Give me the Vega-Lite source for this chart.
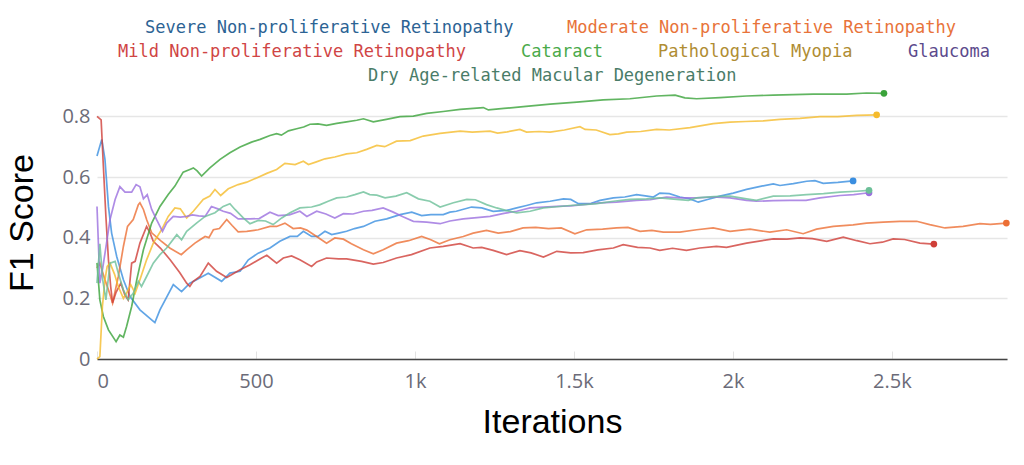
{
"$schema":"https://vega.github.io/schema/vega-lite/v6.json",
"width":910,"height":273,
"autosize":{"type":"none"},
"padding":{"left":97,"top":86,"right":17,"bottom":106},
"background":"white",
"data":{"values":[
{"series":"Severe Non-proliferative Retinopathy","iter":0,"f1":0.669},{"series":"Severe Non-proliferative Retinopathy","iter":15,"f1":0.724},{"series":"Severe Non-proliferative Retinopathy","iter":25,"f1":0.658},{"series":"Severe Non-proliferative Retinopathy","iter":36,"f1":0.503},{"series":"Severe Non-proliferative Retinopathy","iter":46,"f1":0.415},{"series":"Severe Non-proliferative Retinopathy","iter":62,"f1":0.338},{"series":"Severe Non-proliferative Retinopathy","iter":83,"f1":0.261},{"series":"Severe Non-proliferative Retinopathy","iter":104,"f1":0.206},{"series":"Severe Non-proliferative Retinopathy","iter":135,"f1":0.162},{"series":"Severe Non-proliferative Retinopathy","iter":182,"f1":0.12},{"series":"Severe Non-proliferative Retinopathy","iter":198,"f1":0.162},{"series":"Severe Non-proliferative Retinopathy","iter":240,"f1":0.245},{"series":"Severe Non-proliferative Retinopathy","iter":266,"f1":0.222},{"series":"Severe Non-proliferative Retinopathy","iter":292,"f1":0.25},{"series":"Severe Non-proliferative Retinopathy","iter":313,"f1":0.261},{"series":"Severe Non-proliferative Retinopathy","iter":350,"f1":0.283},{"series":"Severe Non-proliferative Retinopathy","iter":392,"f1":0.256},{"series":"Severe Non-proliferative Retinopathy","iter":418,"f1":0.283},{"series":"Severe Non-proliferative Retinopathy","iter":450,"f1":0.289},{"series":"Severe Non-proliferative Retinopathy","iter":476,"f1":0.327},{"series":"Severe Non-proliferative Retinopathy","iter":507,"f1":0.349},{"series":"Severe Non-proliferative Retinopathy","iter":544,"f1":0.366},{"series":"Severe Non-proliferative Retinopathy","iter":575,"f1":0.388},{"series":"Severe Non-proliferative Retinopathy","iter":607,"f1":0.404},{"series":"Severe Non-proliferative Retinopathy","iter":630,"f1":0.404},{"series":"Severe Non-proliferative Retinopathy","iter":649,"f1":0.421},{"series":"Severe Non-proliferative Retinopathy","iter":675,"f1":0.404},{"series":"Severe Non-proliferative Retinopathy","iter":695,"f1":0.404},{"series":"Severe Non-proliferative Retinopathy","iter":717,"f1":0.421},{"series":"Severe Non-proliferative Retinopathy","iter":738,"f1":0.41},{"series":"Severe Non-proliferative Retinopathy","iter":760,"f1":0.415},{"series":"Severe Non-proliferative Retinopathy","iter":785,"f1":0.421},{"series":"Severe Non-proliferative Retinopathy","iter":810,"f1":0.43},{"series":"Severe Non-proliferative Retinopathy","iter":838,"f1":0.437},{"series":"Severe Non-proliferative Retinopathy","iter":874,"f1":0.454},{"series":"Severe Non-proliferative Retinopathy","iter":911,"f1":0.462},{"series":"Severe Non-proliferative Retinopathy","iter":953,"f1":0.476},{"series":"Severe Non-proliferative Retinopathy","iter":990,"f1":0.484},{"series":"Severe Non-proliferative Retinopathy","iter":1021,"f1":0.473},{"series":"Severe Non-proliferative Retinopathy","iter":1050,"f1":0.476},{"series":"Severe Non-proliferative Retinopathy","iter":1089,"f1":0.476},{"series":"Severe Non-proliferative Retinopathy","iter":1110,"f1":0.484},{"series":"Severe Non-proliferative Retinopathy","iter":1130,"f1":0.487},{"series":"Severe Non-proliferative Retinopathy","iter":1178,"f1":0.501},{"series":"Severe Non-proliferative Retinopathy","iter":1210,"f1":0.498},{"series":"Severe Non-proliferative Retinopathy","iter":1246,"f1":0.487},{"series":"Severe Non-proliferative Retinopathy","iter":1288,"f1":0.49},{"series":"Severe Non-proliferative Retinopathy","iter":1320,"f1":0.498},{"series":"Severe Non-proliferative Retinopathy","iter":1351,"f1":0.506},{"series":"Severe Non-proliferative Retinopathy","iter":1383,"f1":0.515},{"series":"Severe Non-proliferative Retinopathy","iter":1425,"f1":0.52},{"series":"Severe Non-proliferative Retinopathy","iter":1467,"f1":0.528},{"series":"Severe Non-proliferative Retinopathy","iter":1490,"f1":0.526},{"series":"Severe Non-proliferative Retinopathy","iter":1514,"f1":0.512},{"series":"Severe Non-proliferative Retinopathy","iter":1550,"f1":0.512},{"series":"Severe Non-proliferative Retinopathy","iter":1582,"f1":0.523},{"series":"Severe Non-proliferative Retinopathy","iter":1624,"f1":0.531},{"series":"Severe Non-proliferative Retinopathy","iter":1660,"f1":0.534},{"series":"Severe Non-proliferative Retinopathy","iter":1697,"f1":0.542},{"series":"Severe Non-proliferative Retinopathy","iter":1730,"f1":0.537},{"series":"Severe Non-proliferative Retinopathy","iter":1750,"f1":0.534},{"series":"Severe Non-proliferative Retinopathy","iter":1770,"f1":0.547},{"series":"Severe Non-proliferative Retinopathy","iter":1800,"f1":0.545},{"series":"Severe Non-proliferative Retinopathy","iter":1833,"f1":0.534},{"series":"Severe Non-proliferative Retinopathy","iter":1865,"f1":0.528},{"series":"Severe Non-proliferative Retinopathy","iter":1891,"f1":0.517},{"series":"Severe Non-proliferative Retinopathy","iter":1920,"f1":0.526},{"series":"Severe Non-proliferative Retinopathy","iter":1959,"f1":0.537},{"series":"Severe Non-proliferative Retinopathy","iter":2001,"f1":0.547},{"series":"Severe Non-proliferative Retinopathy","iter":2043,"f1":0.559},{"series":"Severe Non-proliferative Retinopathy","iter":2090,"f1":0.57},{"series":"Severe Non-proliferative Retinopathy","iter":2127,"f1":0.577},{"series":"Severe Non-proliferative Retinopathy","iter":2148,"f1":0.572},{"series":"Severe Non-proliferative Retinopathy","iter":2190,"f1":0.578},{"series":"Severe Non-proliferative Retinopathy","iter":2232,"f1":0.586},{"series":"Severe Non-proliferative Retinopathy","iter":2258,"f1":0.588},{"series":"Severe Non-proliferative Retinopathy","iter":2284,"f1":0.579},{"series":"Severe Non-proliferative Retinopathy","iter":2330,"f1":0.582},{"series":"Severe Non-proliferative Retinopathy","iter":2378,"f1":0.587},
{"series":"Moderate Non-proliferative Retinopathy","iter":0,"f1":0.3},{"series":"Moderate Non-proliferative Retinopathy","iter":9,"f1":0.316},{"series":"Moderate Non-proliferative Retinopathy","iter":25,"f1":0.261},{"series":"Moderate Non-proliferative Retinopathy","iter":36,"f1":0.228},{"series":"Moderate Non-proliferative Retinopathy","iter":49,"f1":0.184},{"series":"Moderate Non-proliferative Retinopathy","iter":67,"f1":0.272},{"series":"Moderate Non-proliferative Retinopathy","iter":83,"f1":0.371},{"series":"Moderate Non-proliferative Retinopathy","iter":96,"f1":0.437},{"series":"Moderate Non-proliferative Retinopathy","iter":114,"f1":0.46},{"series":"Moderate Non-proliferative Retinopathy","iter":130,"f1":0.509},{"series":"Moderate Non-proliferative Retinopathy","iter":135,"f1":0.515},{"series":"Moderate Non-proliferative Retinopathy","iter":146,"f1":0.493},{"series":"Moderate Non-proliferative Retinopathy","iter":156,"f1":0.46},{"series":"Moderate Non-proliferative Retinopathy","iter":172,"f1":0.416},{"series":"Moderate Non-proliferative Retinopathy","iter":200,"f1":0.39},{"series":"Moderate Non-proliferative Retinopathy","iter":230,"f1":0.365},{"series":"Moderate Non-proliferative Retinopathy","iter":265,"f1":0.344},{"series":"Moderate Non-proliferative Retinopathy","iter":282,"f1":0.36},{"series":"Moderate Non-proliferative Retinopathy","iter":308,"f1":0.382},{"series":"Moderate Non-proliferative Retinopathy","iter":324,"f1":0.393},{"series":"Moderate Non-proliferative Retinopathy","iter":340,"f1":0.404},{"series":"Moderate Non-proliferative Retinopathy","iter":352,"f1":0.4},{"series":"Moderate Non-proliferative Retinopathy","iter":366,"f1":0.426},{"series":"Moderate Non-proliferative Retinopathy","iter":385,"f1":0.43},{"series":"Moderate Non-proliferative Retinopathy","iter":408,"f1":0.46},{"series":"Moderate Non-proliferative Retinopathy","iter":425,"f1":0.44},{"series":"Moderate Non-proliferative Retinopathy","iter":444,"f1":0.419},{"series":"Moderate Non-proliferative Retinopathy","iter":471,"f1":0.421},{"series":"Moderate Non-proliferative Retinopathy","iter":507,"f1":0.426},{"series":"Moderate Non-proliferative Retinopathy","iter":544,"f1":0.437},{"series":"Moderate Non-proliferative Retinopathy","iter":565,"f1":0.437},{"series":"Moderate Non-proliferative Retinopathy","iter":591,"f1":0.448},{"series":"Moderate Non-proliferative Retinopathy","iter":617,"f1":0.43},{"series":"Moderate Non-proliferative Retinopathy","iter":640,"f1":0.432},{"series":"Moderate Non-proliferative Retinopathy","iter":660,"f1":0.425},{"series":"Moderate Non-proliferative Retinopathy","iter":686,"f1":0.407},{"series":"Moderate Non-proliferative Retinopathy","iter":722,"f1":0.382},{"series":"Moderate Non-proliferative Retinopathy","iter":748,"f1":0.399},{"series":"Moderate Non-proliferative Retinopathy","iter":775,"f1":0.395},{"series":"Moderate Non-proliferative Retinopathy","iter":800,"f1":0.38},{"series":"Moderate Non-proliferative Retinopathy","iter":838,"f1":0.36},{"series":"Moderate Non-proliferative Retinopathy","iter":869,"f1":0.347},{"series":"Moderate Non-proliferative Retinopathy","iter":900,"f1":0.36},{"series":"Moderate Non-proliferative Retinopathy","iter":942,"f1":0.382},{"series":"Moderate Non-proliferative Retinopathy","iter":980,"f1":0.39},{"series":"Moderate Non-proliferative Retinopathy","iter":1021,"f1":0.404},{"series":"Moderate Non-proliferative Retinopathy","iter":1050,"f1":0.393},{"series":"Moderate Non-proliferative Retinopathy","iter":1077,"f1":0.38},{"series":"Moderate Non-proliferative Retinopathy","iter":1110,"f1":0.393},{"series":"Moderate Non-proliferative Retinopathy","iter":1152,"f1":0.404},{"series":"Moderate Non-proliferative Retinopathy","iter":1183,"f1":0.415},{"series":"Moderate Non-proliferative Retinopathy","iter":1225,"f1":0.424},{"series":"Moderate Non-proliferative Retinopathy","iter":1262,"f1":0.415},{"series":"Moderate Non-proliferative Retinopathy","iter":1300,"f1":0.42},{"series":"Moderate Non-proliferative Retinopathy","iter":1340,"f1":0.432},{"series":"Moderate Non-proliferative Retinopathy","iter":1380,"f1":0.434},{"series":"Moderate Non-proliferative Retinopathy","iter":1420,"f1":0.43},{"series":"Moderate Non-proliferative Retinopathy","iter":1460,"f1":0.432},{"series":"Moderate Non-proliferative Retinopathy","iter":1503,"f1":0.413},{"series":"Moderate Non-proliferative Retinopathy","iter":1540,"f1":0.426},{"series":"Moderate Non-proliferative Retinopathy","iter":1590,"f1":0.428},{"series":"Moderate Non-proliferative Retinopathy","iter":1634,"f1":0.432},{"series":"Moderate Non-proliferative Retinopathy","iter":1670,"f1":0.434},{"series":"Moderate Non-proliferative Retinopathy","iter":1708,"f1":0.421},{"series":"Moderate Non-proliferative Retinopathy","iter":1745,"f1":0.424},{"series":"Moderate Non-proliferative Retinopathy","iter":1781,"f1":0.418},{"series":"Moderate Non-proliferative Retinopathy","iter":1833,"f1":0.418},{"series":"Moderate Non-proliferative Retinopathy","iter":1886,"f1":0.426},{"series":"Moderate Non-proliferative Retinopathy","iter":1938,"f1":0.432},{"series":"Moderate Non-proliferative Retinopathy","iter":1991,"f1":0.421},{"series":"Moderate Non-proliferative Retinopathy","iter":2054,"f1":0.428},{"series":"Moderate Non-proliferative Retinopathy","iter":2116,"f1":0.418},{"series":"Moderate Non-proliferative Retinopathy","iter":2169,"f1":0.426},{"series":"Moderate Non-proliferative Retinopathy","iter":2221,"f1":0.413},{"series":"Moderate Non-proliferative Retinopathy","iter":2263,"f1":0.428},{"series":"Moderate Non-proliferative Retinopathy","iter":2316,"f1":0.437},{"series":"Moderate Non-proliferative Retinopathy","iter":2378,"f1":0.442},{"series":"Moderate Non-proliferative Retinopathy","iter":2420,"f1":0.448},{"series":"Moderate Non-proliferative Retinopathy","iter":2473,"f1":0.451},{"series":"Moderate Non-proliferative Retinopathy","iter":2525,"f1":0.454},{"series":"Moderate Non-proliferative Retinopathy","iter":2578,"f1":0.454},{"series":"Moderate Non-proliferative Retinopathy","iter":2619,"f1":0.443},{"series":"Moderate Non-proliferative Retinopathy","iter":2667,"f1":0.432},{"series":"Moderate Non-proliferative Retinopathy","iter":2724,"f1":0.437},{"series":"Moderate Non-proliferative Retinopathy","iter":2777,"f1":0.446},{"series":"Moderate Non-proliferative Retinopathy","iter":2810,"f1":0.444},{"series":"Moderate Non-proliferative Retinopathy","iter":2860,"f1":0.448},
{"series":"Mild Non-proliferative Retinopathy","iter":0,"f1":0.8},{"series":"Mild Non-proliferative Retinopathy","iter":13,"f1":0.788},{"series":"Mild Non-proliferative Retinopathy","iter":20,"f1":0.636},{"series":"Mild Non-proliferative Retinopathy","iter":28,"f1":0.47},{"series":"Mild Non-proliferative Retinopathy","iter":36,"f1":0.327},{"series":"Mild Non-proliferative Retinopathy","iter":43,"f1":0.239},{"series":"Mild Non-proliferative Retinopathy","iter":49,"f1":0.185},{"series":"Mild Non-proliferative Retinopathy","iter":60,"f1":0.22},{"series":"Mild Non-proliferative Retinopathy","iter":75,"f1":0.25},{"series":"Mild Non-proliferative Retinopathy","iter":88,"f1":0.21},{"series":"Mild Non-proliferative Retinopathy","iter":98,"f1":0.195},{"series":"Mild Non-proliferative Retinopathy","iter":109,"f1":0.316},{"series":"Mild Non-proliferative Retinopathy","iter":120,"f1":0.322},{"series":"Mild Non-proliferative Retinopathy","iter":135,"f1":0.382},{"series":"Mild Non-proliferative Retinopathy","iter":156,"f1":0.437},{"series":"Mild Non-proliferative Retinopathy","iter":167,"f1":0.415},{"series":"Mild Non-proliferative Retinopathy","iter":177,"f1":0.388},{"series":"Mild Non-proliferative Retinopathy","iter":200,"f1":0.365},{"series":"Mild Non-proliferative Retinopathy","iter":230,"f1":0.327},{"series":"Mild Non-proliferative Retinopathy","iter":260,"f1":0.285},{"series":"Mild Non-proliferative Retinopathy","iter":282,"f1":0.25},{"series":"Mild Non-proliferative Retinopathy","iter":292,"f1":0.239},{"series":"Mild Non-proliferative Retinopathy","iter":302,"f1":0.255},{"series":"Mild Non-proliferative Retinopathy","iter":324,"f1":0.272},{"series":"Mild Non-proliferative Retinopathy","iter":350,"f1":0.316},{"series":"Mild Non-proliferative Retinopathy","iter":376,"f1":0.289},{"series":"Mild Non-proliferative Retinopathy","iter":408,"f1":0.269},{"series":"Mild Non-proliferative Retinopathy","iter":450,"f1":0.294},{"series":"Mild Non-proliferative Retinopathy","iter":480,"f1":0.31},{"series":"Mild Non-proliferative Retinopathy","iter":518,"f1":0.333},{"series":"Mild Non-proliferative Retinopathy","iter":534,"f1":0.342},{"series":"Mild Non-proliferative Retinopathy","iter":565,"f1":0.316},{"series":"Mild Non-proliferative Retinopathy","iter":586,"f1":0.333},{"series":"Mild Non-proliferative Retinopathy","iter":612,"f1":0.34},{"series":"Mild Non-proliferative Retinopathy","iter":638,"f1":0.327},{"series":"Mild Non-proliferative Retinopathy","iter":675,"f1":0.305},{"series":"Mild Non-proliferative Retinopathy","iter":691,"f1":0.32},{"series":"Mild Non-proliferative Retinopathy","iter":722,"f1":0.333},{"series":"Mild Non-proliferative Retinopathy","iter":760,"f1":0.33},{"series":"Mild Non-proliferative Retinopathy","iter":785,"f1":0.33},{"series":"Mild Non-proliferative Retinopathy","iter":832,"f1":0.322},{"series":"Mild Non-proliferative Retinopathy","iter":869,"f1":0.313},{"series":"Mild Non-proliferative Retinopathy","iter":900,"f1":0.318},{"series":"Mild Non-proliferative Retinopathy","iter":942,"f1":0.333},{"series":"Mild Non-proliferative Retinopathy","iter":989,"f1":0.344},{"series":"Mild Non-proliferative Retinopathy","iter":1047,"f1":0.366},{"series":"Mild Non-proliferative Retinopathy","iter":1089,"f1":0.371},{"series":"Mild Non-proliferative Retinopathy","iter":1142,"f1":0.38},{"series":"Mild Non-proliferative Retinopathy","iter":1183,"f1":0.366},{"series":"Mild Non-proliferative Retinopathy","iter":1210,"f1":0.368},{"series":"Mild Non-proliferative Retinopathy","iter":1246,"f1":0.358},{"series":"Mild Non-proliferative Retinopathy","iter":1288,"f1":0.344},{"series":"Mild Non-proliferative Retinopathy","iter":1330,"f1":0.357},{"series":"Mild Non-proliferative Retinopathy","iter":1365,"f1":0.35},{"series":"Mild Non-proliferative Retinopathy","iter":1404,"f1":0.336},{"series":"Mild Non-proliferative Retinopathy","iter":1446,"f1":0.355},{"series":"Mild Non-proliferative Retinopathy","iter":1490,"f1":0.35},{"series":"Mild Non-proliferative Retinopathy","iter":1529,"f1":0.351},{"series":"Mild Non-proliferative Retinopathy","iter":1575,"f1":0.36},{"series":"Mild Non-proliferative Retinopathy","iter":1624,"f1":0.366},{"series":"Mild Non-proliferative Retinopathy","iter":1655,"f1":0.377},{"series":"Mild Non-proliferative Retinopathy","iter":1700,"f1":0.368},{"series":"Mild Non-proliferative Retinopathy","iter":1739,"f1":0.366},{"series":"Mild Non-proliferative Retinopathy","iter":1770,"f1":0.358},{"series":"Mild Non-proliferative Retinopathy","iter":1810,"f1":0.365},{"series":"Mild Non-proliferative Retinopathy","iter":1854,"f1":0.358},{"series":"Mild Non-proliferative Retinopathy","iter":1896,"f1":0.366},{"series":"Mild Non-proliferative Retinopathy","iter":1948,"f1":0.371},{"series":"Mild Non-proliferative Retinopathy","iter":1980,"f1":0.368},{"series":"Mild Non-proliferative Retinopathy","iter":2043,"f1":0.382},{"series":"Mild Non-proliferative Retinopathy","iter":2127,"f1":0.396},{"series":"Mild Non-proliferative Retinopathy","iter":2170,"f1":0.395},{"series":"Mild Non-proliferative Retinopathy","iter":2211,"f1":0.399},{"series":"Mild Non-proliferative Retinopathy","iter":2250,"f1":0.397},{"series":"Mild Non-proliferative Retinopathy","iter":2295,"f1":0.388},{"series":"Mild Non-proliferative Retinopathy","iter":2347,"f1":0.402},{"series":"Mild Non-proliferative Retinopathy","iter":2390,"f1":0.39},{"series":"Mild Non-proliferative Retinopathy","iter":2431,"f1":0.38},{"series":"Mild Non-proliferative Retinopathy","iter":2470,"f1":0.385},{"series":"Mild Non-proliferative Retinopathy","iter":2504,"f1":0.396},{"series":"Mild Non-proliferative Retinopathy","iter":2540,"f1":0.394},{"series":"Mild Non-proliferative Retinopathy","iter":2588,"f1":0.382},{"series":"Mild Non-proliferative Retinopathy","iter":2632,"f1":0.379},
{"series":"Cataract","iter":0,"f1":0.317},{"series":"Cataract","iter":9,"f1":0.195},{"series":"Cataract","iter":20,"f1":0.14},{"series":"Cataract","iter":36,"f1":0.096},{"series":"Cataract","iter":60,"f1":0.057},{"series":"Cataract","iter":72,"f1":0.079},{"series":"Cataract","iter":83,"f1":0.072},{"series":"Cataract","iter":93,"f1":0.107},{"series":"Cataract","iter":109,"f1":0.173},{"series":"Cataract","iter":125,"f1":0.261},{"series":"Cataract","iter":146,"f1":0.36},{"series":"Cataract","iter":172,"f1":0.448},{"series":"Cataract","iter":198,"f1":0.503},{"series":"Cataract","iter":224,"f1":0.542},{"series":"Cataract","iter":245,"f1":0.57},{"series":"Cataract","iter":271,"f1":0.616},{"series":"Cataract","iter":292,"f1":0.625},{"series":"Cataract","iter":303,"f1":0.63},{"series":"Cataract","iter":315,"f1":0.62},{"series":"Cataract","iter":329,"f1":0.603},{"series":"Cataract","iter":355,"f1":0.63},{"series":"Cataract","iter":387,"f1":0.658},{"series":"Cataract","iter":418,"f1":0.68},{"series":"Cataract","iter":450,"f1":0.699},{"series":"Cataract","iter":486,"f1":0.715},{"series":"Cataract","iter":513,"f1":0.724},{"series":"Cataract","iter":544,"f1":0.737},{"series":"Cataract","iter":565,"f1":0.743},{"series":"Cataract","iter":580,"f1":0.738},{"series":"Cataract","iter":602,"f1":0.752},{"series":"Cataract","iter":628,"f1":0.759},{"series":"Cataract","iter":650,"f1":0.765},{"series":"Cataract","iter":670,"f1":0.774},{"series":"Cataract","iter":695,"f1":0.775},{"series":"Cataract","iter":722,"f1":0.77},{"series":"Cataract","iter":754,"f1":0.777},{"series":"Cataract","iter":785,"f1":0.782},{"series":"Cataract","iter":817,"f1":0.787},{"series":"Cataract","iter":838,"f1":0.792},{"series":"Cataract","iter":869,"f1":0.782},{"series":"Cataract","iter":910,"f1":0.79},{"series":"Cataract","iter":953,"f1":0.799},{"series":"Cataract","iter":995,"f1":0.801},{"series":"Cataract","iter":1037,"f1":0.81},{"series":"Cataract","iter":1089,"f1":0.816},{"series":"Cataract","iter":1142,"f1":0.823},{"series":"Cataract","iter":1215,"f1":0.829},{"series":"Cataract","iter":1231,"f1":0.821},{"series":"Cataract","iter":1280,"f1":0.826},{"series":"Cataract","iter":1341,"f1":0.832},{"series":"Cataract","iter":1425,"f1":0.84},{"series":"Cataract","iter":1509,"f1":0.847},{"series":"Cataract","iter":1592,"f1":0.854},{"series":"Cataract","iter":1676,"f1":0.858},{"series":"Cataract","iter":1760,"f1":0.867},{"series":"Cataract","iter":1818,"f1":0.87},{"series":"Cataract","iter":1849,"f1":0.861},{"series":"Cataract","iter":1886,"f1":0.858},{"series":"Cataract","iter":1959,"f1":0.862},{"series":"Cataract","iter":2043,"f1":0.867},{"series":"Cataract","iter":2127,"f1":0.87},{"series":"Cataract","iter":2253,"f1":0.873},{"series":"Cataract","iter":2358,"f1":0.873},{"series":"Cataract","iter":2420,"f1":0.877},{"series":"Cataract","iter":2475,"f1":0.876},
{"series":"Pathological Myopia","iter":0,"f1":0.0},{"series":"Pathological Myopia","iter":9,"f1":0.008},{"series":"Pathological Myopia","iter":17,"f1":0.173},{"series":"Pathological Myopia","iter":25,"f1":0.261},{"series":"Pathological Myopia","iter":32,"f1":0.305},{"series":"Pathological Myopia","iter":41,"f1":0.316},{"series":"Pathological Myopia","iter":55,"f1":0.28},{"series":"Pathological Myopia","iter":67,"f1":0.239},{"series":"Pathological Myopia","iter":83,"f1":0.2},{"series":"Pathological Myopia","iter":93,"f1":0.217},{"series":"Pathological Myopia","iter":106,"f1":0.245},{"series":"Pathological Myopia","iter":120,"f1":0.217},{"series":"Pathological Myopia","iter":135,"f1":0.261},{"series":"Pathological Myopia","iter":156,"f1":0.327},{"series":"Pathological Myopia","iter":177,"f1":0.382},{"series":"Pathological Myopia","iter":203,"f1":0.426},{"series":"Pathological Myopia","iter":224,"f1":0.47},{"series":"Pathological Myopia","iter":245,"f1":0.498},{"series":"Pathological Myopia","iter":262,"f1":0.495},{"series":"Pathological Myopia","iter":282,"f1":0.465},{"series":"Pathological Myopia","iter":303,"f1":0.487},{"series":"Pathological Myopia","iter":334,"f1":0.526},{"series":"Pathological Myopia","iter":355,"f1":0.537},{"series":"Pathological Myopia","iter":371,"f1":0.559},{"series":"Pathological Myopia","iter":389,"f1":0.539},{"series":"Pathological Myopia","iter":413,"f1":0.561},{"series":"Pathological Myopia","iter":444,"f1":0.575},{"series":"Pathological Myopia","iter":471,"f1":0.583},{"series":"Pathological Myopia","iter":502,"f1":0.597},{"series":"Pathological Myopia","iter":534,"f1":0.612},{"series":"Pathological Myopia","iter":565,"f1":0.625},{"series":"Pathological Myopia","iter":591,"f1":0.645},{"series":"Pathological Myopia","iter":623,"f1":0.641},{"series":"Pathological Myopia","iter":649,"f1":0.652},{"series":"Pathological Myopia","iter":665,"f1":0.641},{"series":"Pathological Myopia","iter":690,"f1":0.65},{"series":"Pathological Myopia","iter":717,"f1":0.66},{"series":"Pathological Myopia","iter":748,"f1":0.666},{"series":"Pathological Myopia","iter":785,"f1":0.676},{"series":"Pathological Myopia","iter":817,"f1":0.68},{"series":"Pathological Myopia","iter":848,"f1":0.691},{"series":"Pathological Myopia","iter":880,"f1":0.704},{"series":"Pathological Myopia","iter":905,"f1":0.7},{"series":"Pathological Myopia","iter":942,"f1":0.718},{"series":"Pathological Myopia","iter":985,"f1":0.72},{"series":"Pathological Myopia","iter":1026,"f1":0.735},{"series":"Pathological Myopia","iter":1079,"f1":0.744},{"series":"Pathological Myopia","iter":1142,"f1":0.751},{"series":"Pathological Myopia","iter":1180,"f1":0.748},{"series":"Pathological Myopia","iter":1236,"f1":0.751},{"series":"Pathological Myopia","iter":1260,"f1":0.745},{"series":"Pathological Myopia","iter":1290,"f1":0.749},{"series":"Pathological Myopia","iter":1330,"f1":0.757},{"series":"Pathological Myopia","iter":1351,"f1":0.748},{"series":"Pathological Myopia","iter":1390,"f1":0.75},{"series":"Pathological Myopia","iter":1425,"f1":0.748},{"series":"Pathological Myopia","iter":1470,"f1":0.755},{"series":"Pathological Myopia","iter":1519,"f1":0.766},{"series":"Pathological Myopia","iter":1535,"f1":0.757},{"series":"Pathological Myopia","iter":1570,"f1":0.755},{"series":"Pathological Myopia","iter":1613,"f1":0.74},{"series":"Pathological Myopia","iter":1640,"f1":0.742},{"series":"Pathological Myopia","iter":1666,"f1":0.748},{"series":"Pathological Myopia","iter":1710,"f1":0.75},{"series":"Pathological Myopia","iter":1760,"f1":0.757},{"series":"Pathological Myopia","iter":1800,"f1":0.755},{"series":"Pathological Myopia","iter":1865,"f1":0.763},{"series":"Pathological Myopia","iter":1938,"f1":0.776},{"series":"Pathological Myopia","iter":1991,"f1":0.781},{"series":"Pathological Myopia","iter":2040,"f1":0.783},{"series":"Pathological Myopia","iter":2096,"f1":0.785},{"series":"Pathological Myopia","iter":2148,"f1":0.79},{"series":"Pathological Myopia","iter":2211,"f1":0.793},{"series":"Pathological Myopia","iter":2274,"f1":0.799},{"series":"Pathological Myopia","iter":2330,"f1":0.799},{"series":"Pathological Myopia","iter":2389,"f1":0.803},{"series":"Pathological Myopia","iter":2452,"f1":0.805},
{"series":"Glaucoma","iter":0,"f1":0.503},{"series":"Glaucoma","iter":9,"f1":0.25},{"series":"Glaucoma","iter":18,"f1":0.3},{"series":"Glaucoma","iter":30,"f1":0.382},{"series":"Glaucoma","iter":41,"f1":0.46},{"series":"Glaucoma","iter":57,"f1":0.526},{"series":"Glaucoma","iter":72,"f1":0.568},{"series":"Glaucoma","iter":88,"f1":0.55},{"series":"Glaucoma","iter":109,"f1":0.55},{"series":"Glaucoma","iter":123,"f1":0.575},{"series":"Glaucoma","iter":135,"f1":0.568},{"series":"Glaucoma","iter":146,"f1":0.528},{"series":"Glaucoma","iter":158,"f1":0.542},{"series":"Glaucoma","iter":172,"f1":0.493},{"series":"Glaucoma","iter":187,"f1":0.46},{"series":"Glaucoma","iter":206,"f1":0.421},{"series":"Glaucoma","iter":219,"f1":0.448},{"series":"Glaucoma","iter":240,"f1":0.47},{"series":"Glaucoma","iter":262,"f1":0.468},{"series":"Glaucoma","iter":282,"f1":0.47},{"series":"Glaucoma","iter":300,"f1":0.475},{"series":"Glaucoma","iter":320,"f1":0.472},{"series":"Glaucoma","iter":340,"f1":0.47},{"series":"Glaucoma","iter":360,"f1":0.503},{"series":"Glaucoma","iter":380,"f1":0.495},{"series":"Glaucoma","iter":397,"f1":0.487},{"series":"Glaucoma","iter":420,"f1":0.48},{"series":"Glaucoma","iter":444,"f1":0.462},{"series":"Glaucoma","iter":481,"f1":0.462},{"series":"Glaucoma","iter":510,"f1":0.463},{"series":"Glaucoma","iter":544,"f1":0.484},{"series":"Glaucoma","iter":570,"f1":0.473},{"series":"Glaucoma","iter":605,"f1":0.475},{"series":"Glaucoma","iter":638,"f1":0.487},{"series":"Glaucoma","iter":660,"f1":0.47},{"series":"Glaucoma","iter":691,"f1":0.487},{"series":"Glaucoma","iter":720,"f1":0.478},{"series":"Glaucoma","iter":748,"f1":0.465},{"series":"Glaucoma","iter":775,"f1":0.479},{"series":"Glaucoma","iter":805,"f1":0.478},{"series":"Glaucoma","iter":838,"f1":0.487},{"series":"Glaucoma","iter":865,"f1":0.49},{"series":"Glaucoma","iter":900,"f1":0.498},{"series":"Glaucoma","iter":930,"f1":0.485},{"series":"Glaucoma","iter":964,"f1":0.468},{"series":"Glaucoma","iter":995,"f1":0.454},{"series":"Glaucoma","iter":1037,"f1":0.451},{"series":"Glaucoma","iter":1079,"f1":0.446},{"series":"Glaucoma","iter":1110,"f1":0.455},{"series":"Glaucoma","iter":1152,"f1":0.462},{"series":"Glaucoma","iter":1195,"f1":0.466},{"series":"Glaucoma","iter":1236,"f1":0.47},{"series":"Glaucoma","iter":1280,"f1":0.48},{"series":"Glaucoma","iter":1320,"f1":0.487},{"series":"Glaucoma","iter":1362,"f1":0.498},{"series":"Glaucoma","iter":1404,"f1":0.501},{"series":"Glaucoma","iter":1446,"f1":0.503},{"series":"Glaucoma","iter":1490,"f1":0.505},{"series":"Glaucoma","iter":1529,"f1":0.509},{"series":"Glaucoma","iter":1582,"f1":0.515},{"series":"Glaucoma","iter":1634,"f1":0.517},{"series":"Glaucoma","iter":1697,"f1":0.523},{"series":"Glaucoma","iter":1740,"f1":0.525},{"series":"Glaucoma","iter":1791,"f1":0.534},{"series":"Glaucoma","iter":1830,"f1":0.531},{"series":"Glaucoma","iter":1886,"f1":0.531},{"series":"Glaucoma","iter":1938,"f1":0.534},{"series":"Glaucoma","iter":1991,"f1":0.531},{"series":"Glaucoma","iter":2043,"f1":0.523},{"series":"Glaucoma","iter":2074,"f1":0.52},{"series":"Glaucoma","iter":2127,"f1":0.522},{"series":"Glaucoma","iter":2179,"f1":0.523},{"series":"Glaucoma","iter":2230,"f1":0.523},{"series":"Glaucoma","iter":2274,"f1":0.531},{"series":"Glaucoma","iter":2337,"f1":0.539},{"series":"Glaucoma","iter":2380,"f1":0.542},{"series":"Glaucoma","iter":2428,"f1":0.548},
{"series":"Dry Age-related Macular Degeneration","iter":0,"f1":0.25},{"series":"Dry Age-related Macular Degeneration","iter":9,"f1":0.38},{"series":"Dry Age-related Macular Degeneration","iter":18,"f1":0.261},{"series":"Dry Age-related Macular Degeneration","iter":28,"f1":0.195},{"series":"Dry Age-related Macular Degeneration","iter":41,"f1":0.316},{"series":"Dry Age-related Macular Degeneration","iter":57,"f1":0.322},{"series":"Dry Age-related Macular Degeneration","iter":67,"f1":0.283},{"series":"Dry Age-related Macular Degeneration","iter":83,"f1":0.228},{"series":"Dry Age-related Macular Degeneration","iter":98,"f1":0.195},{"series":"Dry Age-related Macular Degeneration","iter":114,"f1":0.217},{"series":"Dry Age-related Macular Degeneration","iter":130,"f1":0.256},{"series":"Dry Age-related Macular Degeneration","iter":140,"f1":0.239},{"series":"Dry Age-related Macular Degeneration","iter":156,"f1":0.272},{"series":"Dry Age-related Macular Degeneration","iter":177,"f1":0.316},{"series":"Dry Age-related Macular Degeneration","iter":198,"f1":0.344},{"series":"Dry Age-related Macular Degeneration","iter":219,"f1":0.366},{"series":"Dry Age-related Macular Degeneration","iter":251,"f1":0.41},{"series":"Dry Age-related Macular Degeneration","iter":266,"f1":0.393},{"series":"Dry Age-related Macular Degeneration","iter":282,"f1":0.421},{"series":"Dry Age-related Macular Degeneration","iter":313,"f1":0.448},{"series":"Dry Age-related Macular Degeneration","iter":340,"f1":0.47},{"series":"Dry Age-related Macular Degeneration","iter":371,"f1":0.482},{"series":"Dry Age-related Macular Degeneration","iter":397,"f1":0.503},{"series":"Dry Age-related Macular Degeneration","iter":418,"f1":0.512},{"series":"Dry Age-related Macular Degeneration","iter":434,"f1":0.493},{"series":"Dry Age-related Macular Degeneration","iter":460,"f1":0.465},{"series":"Dry Age-related Macular Degeneration","iter":481,"f1":0.446},{"series":"Dry Age-related Macular Degeneration","iter":507,"f1":0.457},{"series":"Dry Age-related Macular Degeneration","iter":530,"f1":0.455},{"series":"Dry Age-related Macular Degeneration","iter":554,"f1":0.443},{"series":"Dry Age-related Macular Degeneration","iter":581,"f1":0.465},{"series":"Dry Age-related Macular Degeneration","iter":607,"f1":0.482},{"series":"Dry Age-related Macular Degeneration","iter":638,"f1":0.498},{"series":"Dry Age-related Macular Degeneration","iter":675,"f1":0.501},{"series":"Dry Age-related Macular Degeneration","iter":700,"f1":0.508},{"series":"Dry Age-related Macular Degeneration","iter":727,"f1":0.52},{"series":"Dry Age-related Macular Degeneration","iter":754,"f1":0.531},{"series":"Dry Age-related Macular Degeneration","iter":785,"f1":0.534},{"series":"Dry Age-related Macular Degeneration","iter":811,"f1":0.542},{"series":"Dry Age-related Macular Degeneration","iter":838,"f1":0.551},{"series":"Dry Age-related Macular Degeneration","iter":858,"f1":0.542},{"series":"Dry Age-related Macular Degeneration","iter":880,"f1":0.54},{"series":"Dry Age-related Macular Degeneration","iter":906,"f1":0.531},{"series":"Dry Age-related Macular Degeneration","iter":940,"f1":0.537},{"series":"Dry Age-related Macular Degeneration","iter":974,"f1":0.548},{"series":"Dry Age-related Macular Degeneration","iter":1011,"f1":0.528},{"series":"Dry Age-related Macular Degeneration","iter":1047,"f1":0.52},{"series":"Dry Age-related Macular Degeneration","iter":1079,"f1":0.501},{"series":"Dry Age-related Macular Degeneration","iter":1121,"f1":0.515},{"series":"Dry Age-related Macular Degeneration","iter":1163,"f1":0.526},{"series":"Dry Age-related Macular Degeneration","iter":1190,"f1":0.525},{"series":"Dry Age-related Macular Degeneration","iter":1225,"f1":0.509},{"series":"Dry Age-related Macular Degeneration","iter":1257,"f1":0.498},{"series":"Dry Age-related Macular Degeneration","iter":1288,"f1":0.489},{"series":"Dry Age-related Macular Degeneration","iter":1320,"f1":0.482},{"series":"Dry Age-related Macular Degeneration","iter":1362,"f1":0.487},{"series":"Dry Age-related Macular Degeneration","iter":1404,"f1":0.498},{"series":"Dry Age-related Macular Degeneration","iter":1446,"f1":0.502},{"series":"Dry Age-related Macular Degeneration","iter":1488,"f1":0.506},{"series":"Dry Age-related Macular Degeneration","iter":1530,"f1":0.509},{"series":"Dry Age-related Macular Degeneration","iter":1572,"f1":0.512},{"series":"Dry Age-related Macular Degeneration","iter":1624,"f1":0.52},{"series":"Dry Age-related Macular Degeneration","iter":1676,"f1":0.526},{"series":"Dry Age-related Macular Degeneration","iter":1728,"f1":0.528},{"series":"Dry Age-related Macular Degeneration","iter":1770,"f1":0.531},{"series":"Dry Age-related Macular Degeneration","iter":1823,"f1":0.526},{"series":"Dry Age-related Macular Degeneration","iter":1860,"f1":0.523},{"series":"Dry Age-related Macular Degeneration","iter":1886,"f1":0.531},{"series":"Dry Age-related Macular Degeneration","iter":1940,"f1":0.535},{"series":"Dry Age-related Macular Degeneration","iter":1991,"f1":0.537},{"series":"Dry Age-related Macular Degeneration","iter":2043,"f1":0.528},{"series":"Dry Age-related Macular Degeneration","iter":2074,"f1":0.523},{"series":"Dry Age-related Macular Degeneration","iter":2127,"f1":0.537},{"series":"Dry Age-related Macular Degeneration","iter":2180,"f1":0.538},{"series":"Dry Age-related Macular Degeneration","iter":2232,"f1":0.542},{"series":"Dry Age-related Macular Degeneration","iter":2285,"f1":0.545},{"series":"Dry Age-related Macular Degeneration","iter":2337,"f1":0.55},{"series":"Dry Age-related Macular Degeneration","iter":2389,"f1":0.553},{"series":"Dry Age-related Macular Degeneration","iter":2428,"f1":0.556}
]},
"encoding":{
 "x":{"field":"iter","type":"quantitative","scale":{"domain":[0,2862],"nice":false,"zero":false},
  "axis":{"title":"Iterations","values":[0,500,1000,1500,2000,2500],"labelExpr":"datum.value >= 1000 ? (datum.value/1000) + 'k' : datum.label","grid":false,"domainColor":"#444","domainWidth":1.5,"ticks":true,"tickSize":-8,"tickColor":"#e2e2e2","tickWidth":1,"labelPadding":20,"labelFont":"Open Sans","labelFontSize":20,"labelColor":"#6b6b78","titleFont":"Liberation Sans","titleFontSize":34,"titleFontWeight":"normal","titleColor":"#000000","titlePadding":14}},
 "y":{"field":"f1","type":"quantitative","scale":{"domain":[0,0.9],"nice":false},
  "axis":{"title":"F1 Score","values":[0,0.2,0.4,0.6,0.8],"labelExpr":"datum.value == 0 ? '0' : format(datum.value, '.1f')","grid":true,"gridColor":"#e6e6e6","gridWidth":1.5,"ticks":false,"domain":false,"labelPadding":7,"labelFont":"Open Sans","labelFontSize":20,"labelColor":"#6b6b78","titleFont":"Liberation Sans","titleFontSize":34,"titleFontWeight":"normal","titleColor":"#000000","titlePadding":22}}
},
"layer":[
 {"data":{"values":[{}]},"mark":{"type":"rule","color":"#444","strokeWidth":1.5},"encoding":{"x":{"datum":0},"y":{"datum":0},"y2":{"datum":0.8}}},
 {"transform":[{"filter":{"field":"series","oneOf":["Severe Non-proliferative Retinopathy","Moderate Non-proliferative Retinopathy"]}}],
  "layer":[
   {"mark":{"type":"line","strokeWidth":1.7,"strokeOpacity":0.8},
    "encoding":{"color":{"field":"series","type":"nominal","scale":{"domain":["Severe Non-proliferative Retinopathy","Moderate Non-proliferative Retinopathy"],"range":["#3a8ee0","#ec6f35"]},
     "legend":{"orient":"none","legendX":31,"legendY":-67,"direction":"horizontal","title":null,"symbolOpacity":0,"symbolSize":0,"symbolStrokeWidth":0,"labelOffset":0,"columnPadding":36,"labelFont":"DejaVu Sans Mono","labelFontSize":17,"labelLimit":0,"padding":0,
      "labelColor":{"expr":"datum.value == 'Severe Non-proliferative Retinopathy' ? '#2c6394' : '#e8733a'"}}}}},
   {"transform":[{"joinaggregate":[{"op":"max","field":"iter","as":"maxIter"}],"groupby":["series"]},{"filter":"datum.iter == datum.maxIter"}],
    "mark":{"type":"point","filled":true,"opacity":1,"size":45},
    "encoding":{"color":{"field":"series","type":"nominal","scale":{"domain":["Severe Non-proliferative Retinopathy","Moderate Non-proliferative Retinopathy"],"range":["#3a8ee0","#ec6f35"]}}}}
  ]},
 {"transform":[{"filter":{"field":"series","oneOf":["Mild Non-proliferative Retinopathy","Cataract","Pathological Myopia","Glaucoma"]}}],
  "layer":[
   {"mark":{"type":"line","strokeWidth":1.7,"strokeOpacity":0.8},
    "encoding":{"color":{"field":"series","type":"nominal","scale":{"domain":["Mild Non-proliferative Retinopathy","Cataract","Pathological Myopia","Glaucoma"],"range":["#cf3f38","#3aa33a","#f5bb2c","#9b6fdf"]},
     "legend":{"orient":"none","legendX":4,"legendY":-43,"direction":"horizontal","title":null,"symbolOpacity":0,"symbolSize":0,"symbolStrokeWidth":0,"labelOffset":0,"columnPadding":38,"labelFont":"DejaVu Sans Mono","labelFontSize":17,"labelLimit":0,"padding":0,
      "labelColor":{"expr":"datum.value == 'Mild Non-proliferative Retinopathy' ? '#d04545' : datum.value == 'Cataract' ? '#4aaa4a' : datum.value == 'Pathological Myopia' ? '#b08d33' : '#5c4a8c'"}}}}},
   {"transform":[{"joinaggregate":[{"op":"max","field":"iter","as":"maxIter"}],"groupby":["series"]},{"filter":"datum.iter == datum.maxIter"}],
    "mark":{"type":"point","filled":true,"opacity":1,"size":45},
    "encoding":{"color":{"field":"series","type":"nominal","scale":{"domain":["Mild Non-proliferative Retinopathy","Cataract","Pathological Myopia","Glaucoma"],"range":["#cf3f38","#3aa33a","#f5bb2c","#9b6fdf"]}}}}
  ]},
 {"transform":[{"filter":{"field":"series","oneOf":["Dry Age-related Macular Degeneration"]}}],
  "layer":[
   {"mark":{"type":"line","strokeWidth":1.7,"strokeOpacity":0.8},
    "encoding":{"color":{"field":"series","type":"nominal","scale":{"domain":["Dry Age-related Macular Degeneration"],"range":["#6cbf98"]},
     "legend":{"orient":"none","legendX":254,"legendY":-19,"direction":"horizontal","title":null,"symbolOpacity":0,"symbolSize":0,"symbolStrokeWidth":0,"labelOffset":0,"columnPadding":34,"labelFont":"DejaVu Sans Mono","labelFontSize":17,"labelLimit":0,"padding":0,
      "labelColor":"#4a7c68"}}}},
   {"transform":[{"joinaggregate":[{"op":"max","field":"iter","as":"maxIter"}],"groupby":["series"]},{"filter":"datum.iter == datum.maxIter"}],
    "mark":{"type":"point","filled":true,"opacity":1,"size":45},
    "encoding":{"color":{"field":"series","type":"nominal","scale":{"domain":["Dry Age-related Macular Degeneration"],"range":["#6cbf98"]}}}}
  ]}
],
"resolve":{"scale":{"color":"independent"}},
"config":{"view":{"stroke":null}}
}
